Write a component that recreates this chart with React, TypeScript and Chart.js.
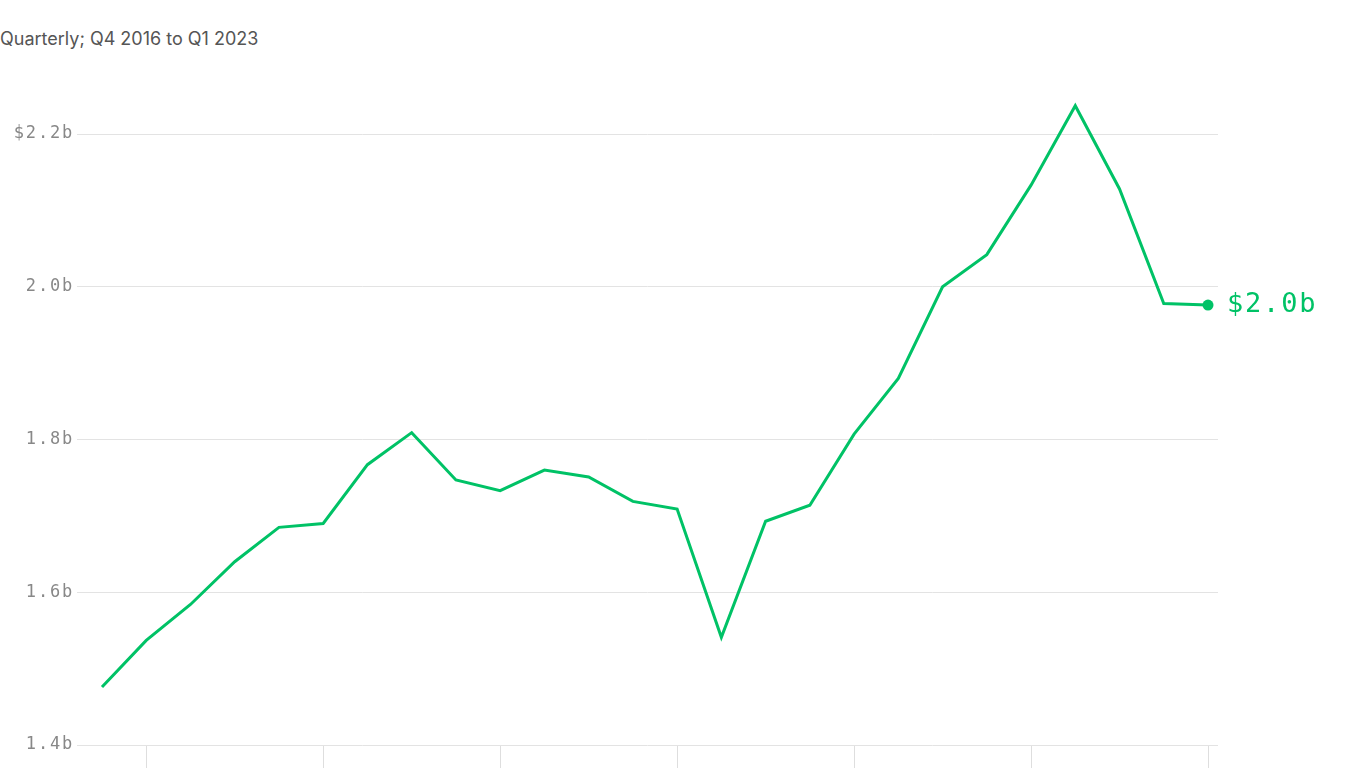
import { useEffect, useRef } from "react";
import { Chart, registerables } from "chart.js";

Chart.register(...registerables);

// quarters from Q4 2016 to Q1 2023, in billions of dollars
const quarters = [
  "Q4 2016",
  "Q1 2017", "Q2 2017", "Q3 2017", "Q4 2017",
  "Q1 2018", "Q2 2018", "Q3 2018", "Q4 2018",
  "Q1 2019", "Q2 2019", "Q3 2019", "Q4 2019",
  "Q1 2020", "Q2 2020", "Q3 2020", "Q4 2020",
  "Q1 2021", "Q2 2021", "Q3 2021", "Q4 2021",
  "Q1 2022", "Q2 2022", "Q3 2022", "Q4 2022",
  "Q1 2023",
];
const values = [
  1.476,
  1.537, 1.584, 1.640, 1.685,
  1.690, 1.767, 1.809, 1.747,
  1.733, 1.760, 1.751, 1.719,
  1.709, 1.541, 1.693, 1.714,
  1.807, 1.880, 2.000, 2.042,
  2.133, 2.237, 2.128, 1.978,
  1.976,
];
const yTicks = [1.4, 1.6, 1.8, 2.0, 2.2];
const yearTicks = ["2017", "2018", "2019", "2020", "2021", "2022", "2023"];

const GREEN = "#00c266";
const MONO = "DejaVu Sans Mono";

const endLabel = {
  id: "endLabel",
  beforeDraw(chart: any) {
    chart.ctx.letterSpacing = "1.8px";
  },
  afterDatasetsDraw(chart: any) {
    const meta = chart.getDatasetMeta(0);
    const last = meta.data[meta.data.length - 1];
    if (!last) return;
    const ctx = chart.ctx;
    ctx.save();
    ctx.font = `27px "${MONO}"`;
    ctx.fillStyle = GREEN;
    ctx.textAlign = "left";
    ctx.textBaseline = "middle";
    ctx.fillText("$" + values[values.length - 1].toFixed(1) + "b", last.x + 19, last.y);
    ctx.restore();
  },
  afterDraw(chart: any) {
    chart.ctx.letterSpacing = "0px";
  },
};

function App() {
  const canvasRef = useRef<HTMLCanvasElement | null>(null);

  useEffect(() => {
    document.body.style.margin = "0";
    if (!canvasRef.current) return;
    const lastIdx = values.length - 1;
    const chart = new Chart(canvasRef.current, {
      type: "line",
      data: {
        labels: quarters,
        datasets: [
          {
            data: values.map((v, i) => ({ x: i, y: v })),
            borderColor: GREEN,
            backgroundColor: GREEN,
            borderWidth: 3,
            tension: 0,
            pointRadius: (c: any) => (c.dataIndex === lastIdx ? 5.5 : 0),
            pointBorderWidth: 0,
            pointHoverRadius: 0,
          },
        ],
      },
      options: {
        animation: false,
        responsive: false,
        maintainAspectRatio: false,
        layout: { padding: { top: 81, right: 148, left: 0, bottom: 0 } },
        plugins: { legend: { display: false }, tooltip: { enabled: false } },
        scales: {
          x: {
            type: "linear",
            min: -0.565,
            max: 25.226,
            afterBuildTicks: (s: any) => {
              s.ticks = yearTicks.map((_, i) => ({ value: 1 + i * 4 }));
            },
            afterFit: (s: any) => {
              s.height = 85;
            },
            ticks: {
              callback: (v: any) => yearTicks[(Number(v) - 1) / 4] ?? "",
              color: "#888",
              font: { family: MONO, size: 17 },
              maxRotation: 0,
              padding: 4,
            },
            grid: { drawOnChartArea: false, drawTicks: true, tickLength: 30, color: "#dedede" },
            border: { display: false },
          },
          y: {
            min: 1.4,
            max: 2.2694,
            afterBuildTicks: (s: any) => {
              s.ticks = yTicks.map((v) => ({ value: v }));
            },
            afterFit: (s: any) => {
              s.width = 77;
            },
            ticks: {
              callback: (v: any) => (Number(v) === 2.2 ? "$" : "") + Number(v).toFixed(1) + "b",
              color: "#888",
              font: { family: MONO, size: 17 },
              padding: 3,
            },
            grid: { color: "#e3e3e3", drawTicks: false, lineWidth: 1 },
            border: { display: false },
          },
        },
      },
      plugins: [endLabel],
    });
    return () => chart.destroy();
  }, []);

  return (
    <div style={{ position: "relative", width: 1366, height: 830, background: "#fff" }}>
      <div
        style={{
          position: "absolute",
          top: 27,
          left: 0,
          fontFamily: "Inter, 'Noto Sans', sans-serif",
          fontSize: 18,
          color: "#555",
          lineHeight: "24px",
        }}
      >
        Quarterly; Q4 2016 to Q1 2023
      </div>
      <canvas
        ref={canvasRef}
        width={1366}
        height={830}
        style={{ position: "absolute", top: 0, left: 0, width: 1366, height: 830 }}
      />
    </div>
  );
}

export default App;
